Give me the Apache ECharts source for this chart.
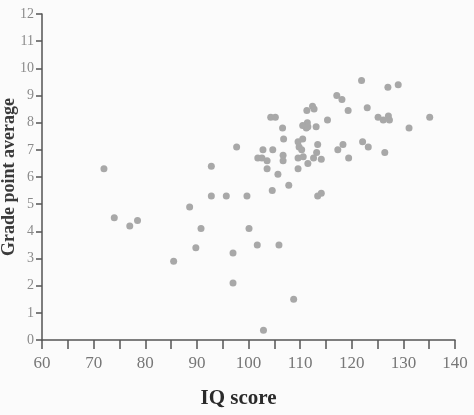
<!DOCTYPE html>
<html>
<head>
<meta charset="utf-8">
<script src="https://cdn.jsdelivr.net/npm/echarts@6/dist/echarts.min.js"></script>
<style>
  html, body { margin: 0; padding: 0; background: #fbfbfb; }
  #chart { width: 474px; height: 415px; }
</style>
</head>
<body>
<div id="chart"></div>
<script>
// IQ score (x) and Grade point average (y)
var iqScores = [72, 74, 77, 78.5, 85.5, 88.6, 90.8, 89.8, 92.8, 92.8,
  95.7, 97, 97, 97.7, 99.7, 100.1, 101.7, 102.9, 101.8, 102.6,
  103.6, 102.8, 104.7, 103.6, 104.3, 105.2, 104.6, 105.7, 105.9, 106.6,
  106.8, 106.7, 106.7, 107.8, 108.75, 109.6, 110.5, 109.8, 110.3, 109.6,
  110.6, 109.6, 111.5, 110.5, 111.4, 111.2, 111.5, 111.3, 112.4, 112.7,
  113.1, 113.4, 113.2, 112.6, 114.1, 113.4, 114.1, 115.3, 117.1, 118.1,
  119.3, 117.3, 118.3, 119.4, 121.9, 123, 125.1, 126.1, 127.1, 127.3,
  127, 129, 122.1, 123.2, 126.4, 131.1, 135.1];
var gpaValues = [6.3, 4.5, 4.2, 4.4, 2.9, 4.9, 4.1, 3.4, 6.4, 5.3,
  5.3, 3.2, 2.1, 7.1, 5.3, 4.1, 3.5, 0.36, 6.7, 6.7,
  6.6, 7.0, 7.0, 6.3, 8.2, 8.2, 5.5, 6.1, 3.5, 7.8,
  7.4, 6.8, 6.6, 5.7, 1.5, 7.3, 7.4, 7.1, 7.0, 6.7,
  6.75, 6.3, 6.5, 7.9, 8.0, 7.8, 7.85, 8.45, 8.6, 8.5,
  7.85, 7.2, 6.9, 6.7, 6.65, 5.3, 5.4, 8.1, 9.0, 8.85,
  8.45, 7.0, 7.2, 6.7, 9.55, 8.55, 8.2, 8.1, 8.25, 8.1,
  9.3, 9.4, 7.3, 7.1, 6.9, 7.8, 8.2];
var xTickLabels = [60, 70, 80, 90, 100, 110, 120, 130, 140];
var yTickLabels = [0, 1, 2, 3, 4, 5, 6, 7, 8, 9, 10, 11, 12];
var xTitle = 'IQ score';
var yTitle = 'Grade point average';

var points = iqScores.map(function (x, i) { return [x, gpaValues[i]]; });

var chart = echarts.init(document.getElementById('chart'), null, { renderer: 'canvas' });
var serif = '"Liberation Serif", "DejaVu Serif", serif';
chart.setOption({
  backgroundColor: '#fbfbfb',
  animation: false,
  grid: { left: 42, right: 19, top: 14, bottom: 75, containLabel: false, outerBoundsMode: 'none' },
  xAxis: {
    type: 'value',
    min: xTickLabels[0],
    max: xTickLabels[xTickLabels.length - 1],
    interval: 5,
    splitLine: { show: false },
    axisLine: { show: true, lineStyle: { color: '#555', width: 1.5 } },
    axisTick: { show: true, inside: false, length: 9, lineStyle: { color: '#555', width: 1.5 } },
    axisLabel: {
      margin: 15,
      color: '#777',
      fontFamily: serif,
      fontSize: 17,
      formatter: function (v) { return xTickLabels.indexOf(v) >= 0 ? String(v) : ''; }
    },
    name: xTitle,
    nameLocation: 'middle',
    nameGap: 48,
    nameMoveOverlap: false,
    nameTextStyle: { fontFamily: serif, fontWeight: 'bold', fontSize: 21, color: '#2a2a2a', padding: [0, 20, 0, 0] }
  },
  yAxis: {
    type: 'value',
    min: yTickLabels[0],
    max: yTickLabels[yTickLabels.length - 1],
    interval: 1,
    splitLine: { show: false },
    axisLine: { show: true, lineStyle: { color: '#555', width: 1.5 } },
    axisTick: { show: true, inside: false, length: 6, lineStyle: { color: '#555', width: 1.5 } },
    axisLabel: {
      margin: 8,
      color: '#8a8a8a',
      fontFamily: serif,
      fontSize: 14,
      formatter: function (v) { return yTickLabels.indexOf(v) >= 0 ? String(v) : ''; }
    },
    name: yTitle,
    nameLocation: 'middle',
    nameGap: 24,
    nameMoveOverlap: false,
    nameRotate: 90,
    nameTextStyle: { fontFamily: serif, fontWeight: 'bold', fontSize: 18, color: '#3a3a3a' }
  },
  series: [{
    type: 'scatter',
    data: points,
    symbol: 'circle',
    symbolSize: 7,
    itemStyle: { color: '#a8a8a8', opacity: 1 }
  }]
});
</script>
</body>
</html>
